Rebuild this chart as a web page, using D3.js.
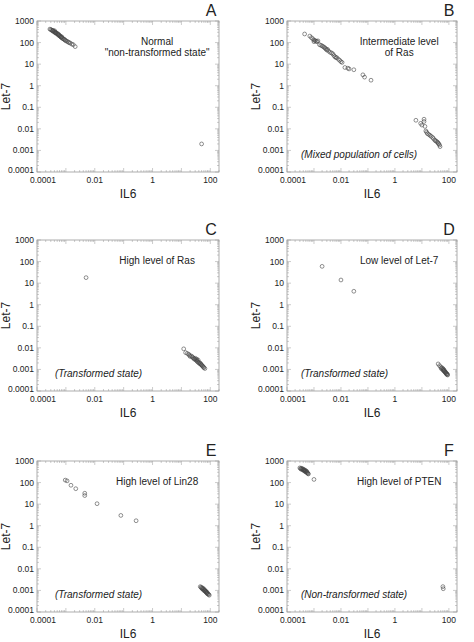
<!DOCTYPE html>
<html>
<head>
<meta charset="utf-8">
<script src="https://cdn.jsdelivr.net/npm/d3@7"></script>
<style>
  body { margin: 0; background: #fff; }
  text { font-family: "Liberation Sans", Arial, sans-serif; fill: #222; }
</style>
</head>
<body>
<svg id="chart" width="474" height="642"></svg>
<script>
// panel letters and annotation texts
var letters = ["A", "B", "C", "D", "E", "F"];
var titles = [
  ["Normal", "\"non-transformed state\""],
  ["Intermediate level", "of Ras"],
  ["High level of Ras"],
  ["Low level of Let-7"],
  ["High level of Lin28"],
  ["High level of PTEN"]
];
var notes = ["", "(Mixed population of cells)", "(Transformed state)", "(Transformed state)", "(Transformed state)", "(Non-transformed state)"];
var xTicks = [0.0001, 0.01, 1, 100];
var yTicks = [0.0001, 0.001, 0.01, 0.1, 1, 10, 100, 1000];

// IL6, Let-7 pairs
var pointsA = [[0.00028,420],[0.0003,400],[0.00032,380],[0.00034,360],[0.00035,340],[0.00036,370],[0.00038,330],[0.0004,310],[0.00041,350],[0.00042,290],[0.00044,300],[0.00045,270],[0.00047,280],[0.0005,250],[0.00052,260],[0.00054,240],[0.00055,220],[0.00058,230],[0.0006,210],[0.00062,200],[0.00065,190],[0.00068,180],[0.0007,170],[0.00072,185],[0.00075,160],[0.0008,150],[0.00085,145],[0.0009,135],[0.00095,130],[0.001,120],[0.0011,115],[0.0012,105],[0.0013,100],[0.0014,95],[0.0016,85],[0.0018,80],[0.0021,65],[50,0.002]];
var pointsB = [[0.00045,250],[0.0007,200],[0.0008,170],[0.0009,150],[0.001,130],[0.001,110],[0.0011,125],[0.0012,115],[0.0013,110],[0.0014,120],[0.0016,80],[0.0018,75],[0.002,70],[0.0022,65],[0.0024,60],[0.0026,55],[0.0028,50],[0.003,45],[0.0032,48],[0.0035,40],[0.004,35],[0.0045,33],[0.005,30],[0.0055,25],[0.006,22],[0.0065,20],[0.007,20],[0.008,17],[0.009,15],[0.01,13],[0.011,12],[0.014,7],[0.018,6.5],[0.02,6],[0.03,5.5],[0.065,3.2],[0.075,2.5],[0.13,1.8],
  [6,0.025],[9,0.018],[10,0.015],[12,0.028],[12,0.022],[13,0.013],[14,0.008],[15,0.007],[16,0.006],[18,0.0055],[20,0.005],[22,0.0045],[25,0.004],[27,0.0035],[30,0.003],[32,0.0028],[35,0.0026],[38,0.0024],[40,0.0022],[42,0.002],[45,0.0018],[47,0.0015]];
var pointsC = [[0.005,18],[12,0.009],[14,0.006],[16,0.0055],[18,0.005],[19,0.0045],[20,0.004],[22,0.0042],[24,0.0038],[25,0.0035],[27,0.0032],[28,0.003],[30,0.0033],[31,0.0028],[33,0.0026],[34,0.003],[35,0.0024],[37,0.0022],[38,0.0027],[40,0.002],[42,0.0021],[44,0.0018],[46,0.0019],[48,0.0017],[50,0.0016],[52,0.0015],[55,0.0014],[58,0.0013],[60,0.0012],[65,0.0011]];
var pointsD = [[0.002,60],[0.01,14],[0.03,4.2],[40,0.0018],[45,0.0015],[50,0.0013],[52,0.0011],[55,0.0012],[58,0.001],[60,0.0011],[62,0.0009],[64,0.001],[66,0.00085],[68,0.0009],[70,0.0008],[72,0.00075],[75,0.0007],[78,0.00072],[80,0.00065],[82,0.0006],[85,0.00062],[88,0.00058],[90,0.00055]];
var pointsE = [[0.00095,130],[0.0011,120],[0.0015,75],[0.0022,52],[0.0045,32],[0.0045,25],[0.012,10.5],[0.08,3],[0.27,1.7],
  [45,0.0015],[48,0.0014],[50,0.0013],[52,0.0012],[54,0.0013],[56,0.0011],[58,0.0012],[60,0.001],[62,0.0011],[64,0.00095],[66,0.001],[68,0.0009],[70,0.00085],[72,0.0009],[74,0.0008],[76,0.00075],[78,0.0008],[80,0.0007],[84,0.00068],[88,0.00065],[92,0.0006]];
var pointsF = [[0.0003,480],[0.00032,450],[0.00033,420],[0.00035,460],[0.00036,400],[0.00038,430],[0.0004,380],[0.00041,410],[0.00042,360],[0.00044,390],[0.00045,340],[0.00047,370],[0.00048,320],[0.0005,350],[0.00052,300],[0.00054,330],[0.00055,290],[0.00058,280],[0.0006,260],[0.00062,250],[0.001,140],[60,0.0015],[62,0.0012]];
var allPoints = [pointsA, pointsB, pointsC, pointsD, pointsE, pointsF];

// plot frames: left, top, width, height
var frames = [
  [37, 21, 182, 151], [287, 21, 170, 151],
  [37, 240, 182, 151], [287, 240, 170, 151],
  [37, 461, 182, 151], [287, 461, 170, 151]
];

var svg = d3.select("#chart");

frames.forEach(function(f, i){
  var g = svg.append("g").attr("transform", "translate(" + f[0] + "," + f[1] + ")");
  var w = f[2], h = f[3];
  var x = d3.scaleLog().domain([0.0001, 200]).range([0, w]);
  var y = d3.scaleLog().domain([0.0001, 1000]).range([h, 0]);

  // minor ticks along all four edges
  var minorX = [], minorY = [];
  for (var e = -4; e <= 2; e++) for (var m = 1; m < 10; m++) { var v = m * Math.pow(10, e); if (v <= 200) minorX.push(v); }
  for (var e2 = -4; e2 <= 3; e2++) for (var m2 = 1; m2 < 10; m2++) { var v2 = m2 * Math.pow(10, e2); if (v2 <= 1000) minorY.push(v2); }

  var tk = g.append("g").attr("stroke", "#999").attr("stroke-width", 0.5);
  minorX.forEach(function(v){
    var len = (Math.log10(v) % 1 === 0) ? 4 : 2;
    tk.append("line").attr("x1", x(v)).attr("x2", x(v)).attr("y1", h).attr("y2", h - len);
    tk.append("line").attr("x1", x(v)).attr("x2", x(v)).attr("y1", 0).attr("y2", len);
  });
  minorY.forEach(function(v){
    var len = (Math.log10(v) % 1 === 0) ? 4 : 2;
    tk.append("line").attr("y1", y(v)).attr("y2", y(v)).attr("x1", 0).attr("x2", len);
    tk.append("line").attr("y1", y(v)).attr("y2", y(v)).attr("x1", w).attr("x2", w - len);
  });

  g.append("rect").attr("width", w).attr("height", h)
    .attr("fill", "none").attr("stroke", "#999").attr("stroke-width", 0.8);

  g.selectAll(".xt").data(xTicks).enter().append("text")
    .attr("x", function(d, k){ return x(d) + (k === 0 ? 6 : 0); }).attr("y", h + 11)
    .attr("text-anchor", "middle").attr("font-size", 8.5)
    .text(function(d){ return d3.format("~g")(d); });
  g.selectAll(".yt").data(yTicks).enter().append("text")
    .attr("x", -3).attr("y", function(d, k){ return y(d) + (k === 0 ? 1 : 3); })
    .attr("text-anchor", "end").attr("font-size", 8.5)
    .text(function(d){ return d >= 1 ? d : d3.format("~f")(d); });

  g.append("text").attr("x", w / 2).attr("y", h + 26)
    .attr("text-anchor", "middle").attr("font-size", 12).text("IL6");
  g.append("text").attr("transform", "translate(" + (-27) + "," + (h / 2) + ") rotate(-90)")
    .attr("text-anchor", "middle").attr("font-size", 12).text("Let-7");

  g.append("text").attr("x", w - 8).attr("y", -5)
    .attr("text-anchor", "middle").attr("font-size", 16).text(letters[i]);

  titles[i].forEach(function(t, k){
    g.append("text").attr("x", w * 0.66).attr("y", 24 + k * 11)
      .attr("text-anchor", "middle").attr("font-size", 10).text(t);
  });
  if (notes[i]) {
    g.append("text").attr("x", i % 2 ? 14 : 18).attr("y", h - 14)
      .attr("font-size", 10).attr("font-style", "italic").text(notes[i]);
  }

  g.selectAll("circle").data(allPoints[i]).enter().append("circle")
    .attr("cx", function(d){ return x(d[0]); })
    .attr("cy", function(d){ return y(d[1]); })
    .attr("r", 1.9).attr("fill", "none")
    .attr("stroke", "#444").attr("stroke-width", 0.6);
});
</script>
</body>
</html>
